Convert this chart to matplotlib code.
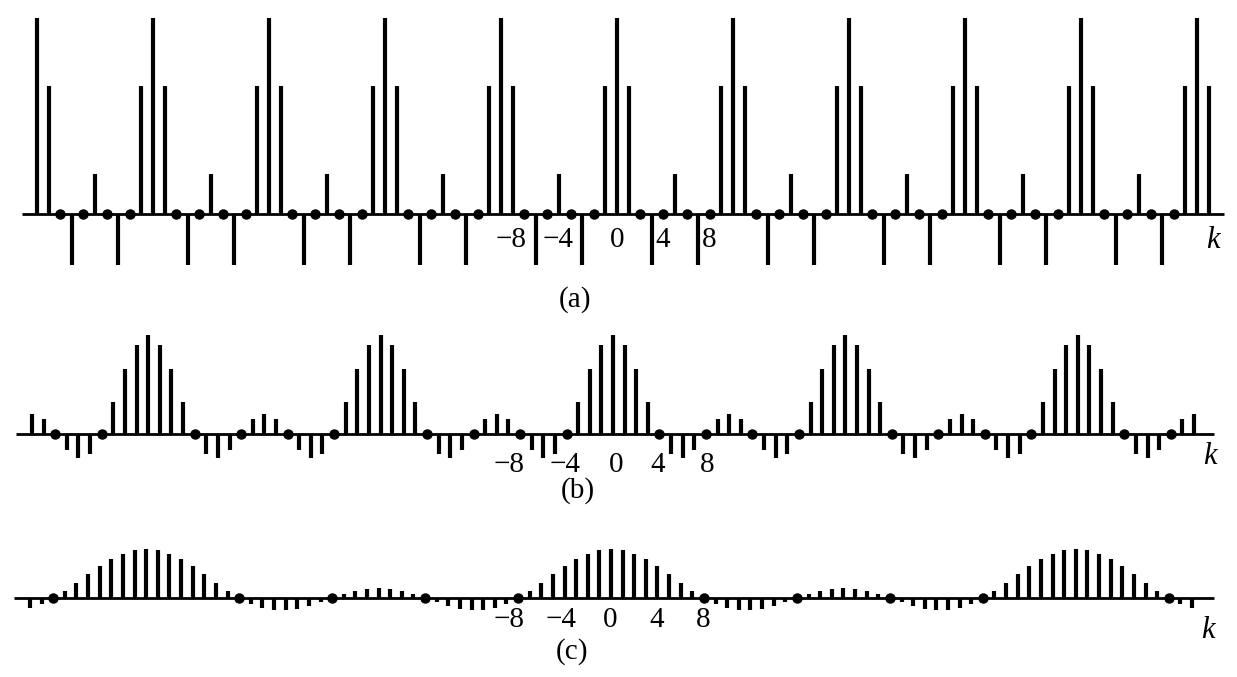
import numpy as np
import matplotlib
matplotlib.use('Agg')
import matplotlib.pyplot as plt

# ---------------- data (one period of each coefficient sequence) ----
# (a) period N = 10, k = 0..9
period_a = [0.5, 0.326, 0.0, -0.13, 0.0, 0.103, 0.0, -0.13, 0.0, 0.326]
# (b) period N = 20, k = 0..19
period_b = [0.252, 0.228, 0.165, 0.082, 0.0, -0.05, -0.062, -0.042, 0.0, 0.037,
            0.051, 0.037, 0.0, -0.042, -0.062, -0.05, 0.0, 0.082, 0.165, 0.228]
# (c) period N = 40, k = 0..39
period_c = [0.125, 0.122, 0.113, 0.099, 0.081, 0.060, 0.039, 0.018, 0.0, -0.015,
            -0.025, -0.030, -0.031, -0.027, -0.020, -0.010, 0.0, 0.010, 0.018, 0.023,
            0.025, 0.023, 0.018, 0.010, 0.0, -0.010, -0.020, -0.027, -0.031, -0.030,
            -0.025, -0.015, 0.0, 0.018, 0.039, 0.060, 0.081, 0.099, 0.113, 0.122]

k_range_a = (-50, 51)
k_range_b = (-50, 50)
k_range_c = (-50, 50)

tick_k = [-8, -4, 0, 4, 8]
tick_labels = ['\u22128', '\u22124', '0', '4', '8']
panel_labels = ['(a)', '(b)', '(c)']
axis_label = 'k'

# ---------------- layout (pixels) --------------------------------------------------------
W, H = 1237, 677
PX_PER_UNIT = 392.0
SERIF = ['Liberation Serif', 'DejaVu Serif']

panels = [
    dict(period=period_a, krange=k_range_a, top=0, bot=300, base=214, k0=617, pxk=11.6,
         axis_px=(22, 1224), lab_off=[-1.13, -1.05, 0.0, -0.03, -0.07], lab_y=240,
         plab=(575, 300), kpos=(1213, 240)),
    dict(period=period_b, krange=k_range_b, top=300, bot=520, base=434, k0=613, pxk=11.62,
         axis_px=(16, 1214), lab_off=[-0.96, -0.16, 0.24, -0.12, 0.1], lab_y=465,
         plab=(578, 491), kpos=(1210, 457)),
    dict(period=period_c, krange=k_range_c, top=520, bot=677, base=598, k0=611, pxk=11.62,
         axis_px=(14, 1214), lab_off=[-0.75, -0.3, -0.09, -0.11, -0.06], lab_y=620,
         plab=(572, 652), kpos=(1208, 631)),
]

fig = plt.figure(figsize=(W / 100, H / 100), dpi=100)
fig.patch.set_facecolor('white')

for p, plabel in zip(panels, panel_labels):
    top, bot, base, k0, pxk = p['top'], p['bot'], p['base'], p['k0'], p['pxk']
    ax = fig.add_axes([0, 1 - bot / H, 1, (bot - top) / H])
    ax.set_xlim(-k0 / pxk, (W - k0) / pxk)
    ax.set_ylim(-(bot - base) / PX_PER_UNIT, (base - top) / PX_PER_UNIT)
    ax.axis('off')

    per = np.array(p['period'])
    N = len(per)
    k = np.arange(p['krange'][0], p['krange'][1] + 1)
    vals = per[k % N]

    x0, x1 = p['axis_px']
    ax.plot([(x0 - k0) / pxk, (x1 - k0) / pxk], [0, 0], color='black', lw=2.0,
            solid_capstyle='butt', zorder=2)
    nz = vals != 0
    ax.vlines(k[nz], 0, vals[nz], color='black', lw=3.0, zorder=3)
    ax.plot(k[~nz], vals[~nz], 'o', color='black', ms=6.5, zorder=4)

    ly = (base - p['lab_y']) / PX_PER_UNIT
    for tk, tl, off in zip(tick_k, tick_labels, p['lab_off']):
        ax.text(tk + off, ly, tl, ha='center', va='center', fontsize=21, family=SERIF)

    kx, ky = p['kpos']
    ax.text((kx - k0) / pxk, (base - ky) / PX_PER_UNIT, axis_label, ha='center', va='center',
            fontsize=22, style='italic', family=SERIF)

    px_, py_ = p['plab']
    fig.text(px_ / W, 1 - py_ / H, plabel, ha='center', va='center', fontsize=21, family=SERIF)

fig.savefig('out.png', dpi=100, facecolor='white')
